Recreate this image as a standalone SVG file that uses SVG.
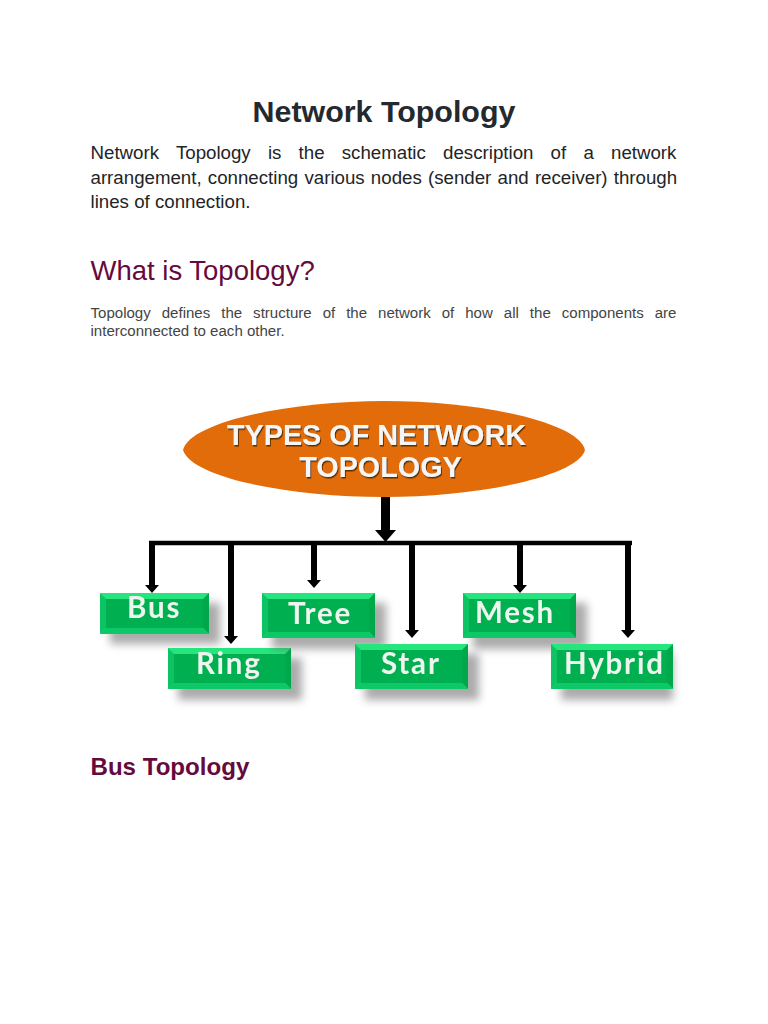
<svg xmlns="http://www.w3.org/2000/svg" width="768" height="1024" viewBox="0 0 768 1024">
<style>
text{font-family:"Liberation Sans",Arial,sans-serif}
.title{font-size:30.4px;font-weight:bold;fill:#24292e}
.body{font-size:18.7px;fill:#222426}
.h2{font-size:27.5px;fill:#660a3e}
.small{font-size:15.05px;fill:#444}
.h3{font-size:24.1px;font-weight:bold;fill:#660a3e}
.etext{font-size:28.8px;font-weight:bold;fill:#f6f6f6;filter:url(#ts)}
.btext{font-family:"Lato","Liberation Sans",sans-serif;font-size:29.5px;font-weight:bold;fill:#eef5ee;letter-spacing:1.8px;filter:url(#ts2)}
.face{fill:#00b050}
.top{fill:#25e67c}.left{fill:#0cc464}.right{fill:#00a84a}.bot{fill:#0cc866}
.sh{fill:#666;opacity:.55;filter:url(#blur)}
.c{stroke:#000;stroke-width:6;fill:none;marker-end:url(#head)}
</style>
<defs>
<filter id="blur" x="-20%" y="-30%" width="140%" height="160%"><feGaussianBlur stdDeviation="4.500"/></filter>
<filter id="ts" x="-5%" y="-20%" width="110%" height="140%"><feDropShadow dx="1" dy="1.500" stdDeviation=".6" flood-color="#5a3000"/></filter>
<filter id="ts2" x="-5%" y="-20%" width="110%" height="140%"><feGaussianBlur stdDeviation=".3"/></filter>
<marker id="head" viewBox="0 0 1.33 2.33" refX="0" refY="1.165" markerWidth="1.33" markerHeight="2.33" orient="auto"><path d="M0 0L1.33 1.165L0 2.33Z"/></marker>
</defs>
<rect width="768" height="1024" fill="#fff"/>
<text class="title" x="384" y="122" text-anchor="middle">Network Topology</text>
<text class="body" x="90.500" y="159" style="word-spacing:12px">Network Topology is the schematic description of a network</text>
<text class="body" x="90.500" y="184" style="word-spacing:1px">arrangement, connecting various nodes (sender and receiver) through</text>
<text class="body" x="90.500" y="208">lines of connection.</text>
<text class="h2" x="90.500" y="280">What is Topology?</text>
<text class="small" x="90.500" y="318" style="word-spacing:6.800px">Topology defines the structure of the network of how all the components are</text>
<text class="small" x="90.500" y="336">interconnected to each other.</text>
<text class="h3" x="90.500" y="775">Bus Topology</text>
<g id="connectors">
<path d="M149 543H632" stroke="#000" stroke-width="4.500" fill="none"/>
<path class="c" style="stroke-width:9" d="M385.500 497V530"/>
<path class="c" d="M152 545V585"/>
<path class="c" d="M231 545V636"/>
<path class="c" d="M314 545V580"/>
<path class="c" d="M412 545V630"/>
<path class="c" d="M520 545V585"/>
<path class="c" d="M628 545V630"/>
</g>
<g id="n-types">
<path d="M183 450C190 422 290 401 384 401C480 401 578 422 585 450C578 476 480 497 384 497C290 497 192 478 183 450Z" fill="#e36c0a"/>
<text class="etext" x="376.500" y="445" text-anchor="middle">TYPES OF NETWORK</text>
<text class="etext" x="380.500" y="477" text-anchor="middle">TOPOLOGY</text>
</g>
<g id="n-bus">
<rect class="sh" x="110" y="603" width="110" height="41"/>
<rect class="top" x="100" y="593" width="109" height="41"/>
<path class="left" d="M100 593L106 599V628L100 634Z"/><path class="right" d="M209 593L203 599V628L209 634Z"/><path class="bot" d="M100 634L106 628H203L209 634Z"/>
<rect class="face" x="106" y="599" width="97" height="29"/>
<text class="btext" x="127" y="618">Bus</text>
</g>
<g id="n-ring">
<rect class="sh" x="178" y="658" width="124" height="42"/>
<rect class="top" x="168" y="648" width="123" height="41"/>
<path class="left" d="M168 648L174 654V683L168 689Z"/><path class="right" d="M291 648L285 654V683L291 689Z"/><path class="bot" d="M168 689L174 683H285L291 689Z"/>
<rect class="face" x="174" y="654" width="111" height="29"/>
<text class="btext" x="196" y="674">Ring</text>
</g>
<g id="n-tree">
<rect class="sh" x="272" y="603" width="114" height="46"/>
<rect class="top" x="262" y="593" width="113" height="45"/>
<path class="left" d="M262 593L268 599V632L262 638Z"/><path class="right" d="M375 593L369 599V632L375 638Z"/><path class="bot" d="M262 638L268 632H369L375 638Z"/>
<rect class="face" x="268" y="599" width="101" height="33"/>
<text class="btext" x="288" y="624">Tree</text>
</g>
<g id="n-star">
<rect class="sh" x="365" y="654" width="114" height="46"/>
<rect class="top" x="355" y="644" width="113" height="45"/>
<path class="left" d="M355 644L361 650V683L355 689Z"/><path class="right" d="M468 644L462 650V683L468 689Z"/><path class="bot" d="M355 689L361 683H462L468 689Z"/>
<rect class="face" x="361" y="650" width="101" height="33"/>
<text class="btext" x="381" y="674">Star</text>
</g>
<g id="n-mesh">
<rect class="sh" x="473" y="603" width="114" height="46"/>
<rect class="top" x="463" y="593" width="113" height="45"/>
<path class="left" d="M463 593L469 599V632L463 638Z"/><path class="right" d="M576 593L570 599V632L576 638Z"/><path class="bot" d="M463 638L469 632H570L576 638Z"/>
<rect class="face" x="469" y="599" width="101" height="33"/>
<text class="btext" x="475" y="623">Mesh</text>
</g>
<g id="n-hybrid">
<rect class="sh" x="561" y="654" width="112" height="46"/>
<rect class="top" x="551" y="644" width="122" height="45"/>
<path class="left" d="M551 644L557 650V683L551 689Z"/><path class="right" d="M673 644L667 650V683L673 689Z"/><path class="bot" d="M551 689L557 683H667L673 689Z"/>
<rect class="face" x="557" y="650" width="110" height="33"/>
<text class="btext" x="564" y="674">Hybrid</text>
</g>
</svg>
